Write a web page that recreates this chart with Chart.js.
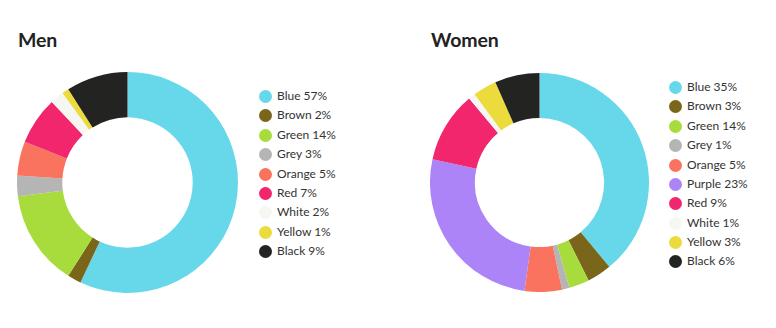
<!DOCTYPE html>
<html>
<head>
<meta charset="utf-8">
<script src="https://cdn.jsdelivr.net/npm/chart.js@4/dist/chart.umd.min.js"></script>
<style>
  html, body { margin: 0; padding: 0; background: #fff; }
  body { width: 776px; height: 328px; position: relative; overflow: hidden; font-family: Lato, "Open Sans", sans-serif; }
  .title { position: absolute; font-weight: bold; font-size: 19.5px; color: #222; letter-spacing: -0.1px; }
  .chartbox { position: absolute; }
  .legend { position: absolute; font-size: 12px; color: #333; }
  .legend .row { position: absolute; left: 0; height: 14px; white-space: nowrap; }
  .legend .dot { position: absolute; left: 0; top: 0; width: 13px; height: 13px; border-radius: 50%; }
  .legend .txt { position: absolute; left: 18px; top: -1px; line-height: 14px; }
</style>
</head>
<body>
<div class="title" style="left:18px; top:28px;">Men</div>
<div class="title" style="left:431px; top:28px;">Women</div>
<div class="chartbox" style="left:17px; top:72px; width:221px; height:221px;"><canvas id="men"></canvas></div>
<div class="chartbox" style="left:430px; top:73px; width:219px; height:219px;"><canvas id="women"></canvas></div>
<div class="legend" id="legMen" style="left:259px; top:90px;"></div>
<div class="legend" id="legWomen" style="left:669px; top:81px;"></div>
<script>
// Men
const menCategories = ["Blue", "Brown", "Green", "Grey", "Orange", "Red", "White", "Yellow", "Black"];
const menValues = [57, 2, 14, 3, 5, 7, 2, 1, 9];
const menLegendLabels = ["Blue 57%", "Brown 2%", "Green 14%", "Grey 3%", "Orange 5%", "Red 7%", "White 2%", "Yellow 1%", "Black 9%"];

// Women (slice sizes)
const womenCategories = ["Blue", "Brown", "Green", "Grey", "Orange", "Purple", "Red", "White", "Yellow", "Black"];
const womenValues = [39, 3.6, 3, 1.1, 5.5, 26.2, 10.5, 1, 3.5, 6.6];
const womenLegendLabels = ["Blue 35%", "Brown 3%", "Green 14%", "Grey 1%", "Orange 5%", "Purple 23%", "Red 9%", "White 1%", "Yellow 3%", "Black 6%"];

const colorMap = {
  Blue: "#67d8ea", Brown: "#7a661a", Green: "#a8dc3c", Grey: "#b5b5b5",
  Orange: "#f9735f", Purple: "#ac84f8", Red: "#f1266d", White: "#f6f6f2",
  Yellow: "#ecdb3c", Black: "#232321"
};

function makeChart(id, cats, vals) {
  new Chart(document.getElementById(id), {
    type: "doughnut",
    data: {
      labels: cats,
      datasets: [{
        data: vals,
        backgroundColor: cats.map(c => colorMap[c]),
        borderWidth: 0,
        hoverOffset: 0
      }]
    },
    options: {
      responsive: true,
      maintainAspectRatio: false,
      animation: false,
      cutout: "59%",
      layout: { padding: 0 },
      plugins: { legend: { display: false }, tooltip: { enabled: false } }
    }
  });
}

function makeLegend(id, cats, labels) {
  const el = document.getElementById(id);
  cats.forEach((c, i) => {
    const row = document.createElement("div");
    row.className = "row";
    row.style.top = (i * 19.38) + "px";
    const dot = document.createElement("span");
    dot.className = "dot";
    dot.style.background = colorMap[c];
    const t = document.createElement("span");
    t.className = "txt";
    t.textContent = labels[i];
    row.appendChild(dot);
    row.appendChild(t);
    el.appendChild(row);
  });
}

makeChart("men", menCategories, menValues);
makeChart("women", womenCategories, womenValues);
makeLegend("legMen", menCategories, menLegendLabels);
makeLegend("legWomen", womenCategories, womenLegendLabels);
</script>
</body>
</html>
